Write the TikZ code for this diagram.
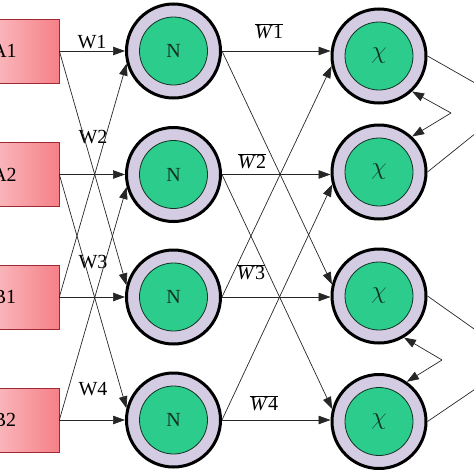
\documentclass[tikz,border=0pt]{standalone}
\usepackage{fontspec}
\setmainfont{Liberation Serif}
\usetikzlibrary{arrows.meta}
\definecolor{boxred}{RGB}{246,128,136}
\definecolor{boxpink}{RGB}{252,224,226}
\definecolor{boxedge}{RGB}{160,40,50}
\definecolor{ringgray}{RGB}{212,204,226}
\definecolor{coregreen}{RGB}{44,204,140}
\definecolor{coretext}{RGB}{20,50,35}
\begin{document}
\begin{tikzpicture}[x=1pt,y=-1pt,
	every node/.style={font=\fontsize{20}{22}\selectfont},
	inbox/.style={rectangle, draw=boxedge, line width=0.7pt, left color=boxpink, right color=boxred, minimum width=109pt, minimum height=64pt},
	unit/.style={circle, draw=black, line width=3pt, fill=ringgray, minimum size=94pt, text=coretext,
		path picture={\draw[line width=0.8pt, draw=coretext, fill=coregreen] (path picture bounding box.center) circle (34pt);}},
	chiunit/.style={unit, font=\fontsize{25}{27}\selectfont},
	wire/.style={draw=black!85, line width=0.7pt},
	arr/.style={wire, -{Triangle[length=12pt,width=8.5pt]}}]
	\path[use as bounding box] (0,0) rectangle (474,474);
	\clip (0,0) rectangle (474,474);
	% inputs
	\node (A1) at (4.5,  51)	[inbox]	{A1};
	\node (A2) at (4.5, 174.5)	[inbox]	{A2};
	\node (B1) at (4.5, 297)	[inbox]	{B1};
	\node (B2) at (4.5, 420)	[inbox]	{B2};
	% hidden layer
	\node (N1) at (173.5,  51)	[unit]	{N};
	\node (N2) at (173.5, 174.5)	[unit]	{N};
	\node (N3) at (173.5, 297)	[unit]	{N};
	\node (N4) at (173.5, 420)	[unit]	{N};
	% output layer
	\node (X1) at (379,  56)	[chiunit]	{$\chi$};
	\node (X2) at (379, 172)	[chiunit]	{$\chi$};
	\node (X3) at (379, 296)	[chiunit]	{$\chi$};
	\node (X4) at (379, 421.5)	[chiunit]	{$\chi$};
	\coordinate (P1) at (451, 113);
	\coordinate (P2) at (442, 360);
	\coordinate (Q1) at (512, 104);
	\coordinate (Q2) at (518, 360);
	% weights
	\node (w1) at (92,  42)	{W1};
	\node (w2) at (93, 137)	{W2};
	\node (w3) at (93, 262)	{W3};
	\node (w4) at (93, 389)	{W4};
	\node (v1) at (269,  31)	{$\overline{\mbox{\textit{W}1}}$};
	\node (v2) at (252, 161)	{$\overline{\mbox{\textit{W}2}}$};
	\node (v3) at (251, 272)	{$\overline{\mbox{\textit{W}3}}$};
	\node (v4) at (264, 403)	{$\overline{\mbox{\textit{W}4}}$};
	\draw[arr] (A1) -- (N1);
	\draw[arr] (A1.east) -- (N3.166);
	\draw[arr] (A2) -- (N2);
	\draw[arr] (A2.east) -- (N4.166);
	\draw[arr] (B1) -- (N3);
	\draw[arr] (B1.east) -- (N1.195);
	\draw[arr] (B2) -- (N4);
	\draw[arr] (B2.east) -- (N2.195);
	\draw[arr] (N1) -- (N1 -| X1.west);
	\draw[arr] (N2) -- (N2 -| X2.west);
	\draw[arr] (N3) -- (N3 -| X3.west);
	\draw[arr] (N4) -- (N4 -| X4.west);
	\draw[arr] (N1.east) -- (X3.166);
	\draw[arr] (N3.east) -- (X1.192);
	\draw[arr] (N2.east) -- (X4.165);
	\draw[arr] (N4.east) -- (X2.195);
	\draw[arr] (P1) -- (X1.-47);
	\draw[arr] (P1) -- (X2.47);
	\draw[arr] (P2) -- (X3.-59);
	\draw[arr] (P2) -- (X4.55);
	\draw[wire] (X1.east) -- (Q1);
	\draw[wire] (X2.east) -- (Q1);
	\draw[wire] (X3.east) -- (Q2);
	\draw[wire] (X4.east) -- (Q2);
\end{tikzpicture}
\end{document}
